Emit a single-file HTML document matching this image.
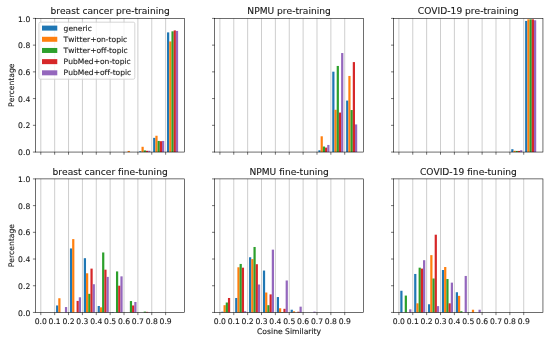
<!DOCTYPE html>
<html lang="en"><head><meta charset="utf-8"><title>Cosine similarity histograms</title>
<style>html,body{margin:0;padding:0;background:#fff}svg{display:block}</style></head>
<body>
<svg width="550" height="340" viewBox="0 0 550 340" font-family="'DejaVu Sans', 'Liberation Sans', sans-serif" fill="#1a1a1a">
<style>text{stroke:#1a1a1a;stroke-width:0.12px;stroke-linejoin:round;font-kerning:none;font-variant-ligatures:none}</style>
<rect width="550" height="340" fill="#fff"/>
<g>
<path d="M40.8 18.4V152.05M54.67 18.4V152.05M68.54 18.4V152.05M82.41 18.4V152.05M96.28 18.4V152.05M110.15 18.4V152.05M124.02 18.4V152.05M137.89 18.4V152.05M151.76 18.4V152.05M165.63 18.4V152.05" stroke="#b0b0b0" stroke-width="0.62" fill="none"/>
<rect x="127.63" y="150.93" width="2.22" height="1.12" fill="#ff7f0e"/>
<rect x="139.28" y="151.2" width="2.22" height="0.85" fill="#1f77b4"/>
<rect x="141.5" y="146.8" width="2.22" height="5.25" fill="#ff7f0e"/>
<rect x="143.72" y="150.4" width="2.22" height="1.65" fill="#2ca02c"/>
<rect x="145.93" y="150.8" width="2.22" height="1.25" fill="#d62728"/>
<rect x="148.15" y="150.8" width="2.22" height="1.25" fill="#9467bd"/>
<rect x="153.15" y="137.88" width="2.22" height="14.17" fill="#1f77b4"/>
<rect x="155.37" y="135.75" width="2.22" height="16.3" fill="#ff7f0e"/>
<rect x="157.59" y="140.94" width="2.22" height="11.11" fill="#2ca02c"/>
<rect x="159.8" y="141.21" width="2.22" height="10.84" fill="#d62728"/>
<rect x="162.02" y="140.94" width="2.22" height="11.11" fill="#9467bd"/>
<rect x="167.02" y="32.39" width="2.22" height="119.66" fill="#1f77b4"/>
<rect x="169.24" y="41.44" width="2.22" height="110.61" fill="#ff7f0e"/>
<rect x="171.46" y="31.32" width="2.22" height="120.73" fill="#2ca02c"/>
<rect x="173.67" y="30.39" width="2.22" height="121.66" fill="#d62728"/>
<rect x="175.89" y="30.92" width="2.22" height="121.13" fill="#9467bd"/>
<path d="M40.8 152.05v2.67M54.67 152.05v2.67M68.54 152.05v2.67M82.41 152.05v2.67M96.28 152.05v2.67M110.15 152.05v2.67M124.02 152.05v2.67M137.89 152.05v2.67M151.76 152.05v2.67M165.63 152.05v2.67M35.6 152.05h-2.67M35.6 125.32h-2.67M35.6 98.59h-2.67M35.6 71.86h-2.67M35.6 45.13h-2.67M35.6 18.4h-2.67" stroke="#000" stroke-width="0.55" fill="none"/>
<rect x="35.6" y="18.4" width="149.05" height="133.65" fill="none" stroke="#000" stroke-width="0.57"/>
<text x="110.12" y="14.2" font-size="9.12" text-anchor="middle">breast cancer pre-training</text>
<text x="30.26" y="155.15" font-size="7.64" text-anchor="end">0.0</text>
<text x="30.26" y="128.42" font-size="7.64" text-anchor="end">0.2</text>
<text x="30.26" y="101.69" font-size="7.64" text-anchor="end">0.4</text>
<text x="30.26" y="74.96" font-size="7.64" text-anchor="end">0.6</text>
<text x="30.26" y="48.23" font-size="7.64" text-anchor="end">0.8</text>
<text x="30.26" y="21.5" font-size="7.64" text-anchor="end">1.0</text>
<text transform="translate(14 85.22) rotate(-90)" font-size="7.64" text-anchor="middle">Percentage</text>
</g>
<g>
<path d="M219.9 18.4V152.05M233.77 18.4V152.05M247.64 18.4V152.05M261.51 18.4V152.05M275.38 18.4V152.05M289.25 18.4V152.05M303.12 18.4V152.05M316.99 18.4V152.05M330.86 18.4V152.05M344.73 18.4V152.05" stroke="#b0b0b0" stroke-width="0.62" fill="none"/>
<rect x="318.38" y="150.27" width="2.22" height="1.78" fill="#1f77b4"/>
<rect x="320.6" y="136.28" width="2.22" height="15.77" fill="#ff7f0e"/>
<rect x="322.82" y="146.54" width="2.22" height="5.51" fill="#2ca02c"/>
<rect x="325.03" y="147.6" width="2.22" height="4.45" fill="#d62728"/>
<rect x="327.25" y="144.94" width="2.22" height="7.11" fill="#9467bd"/>
<rect x="332.25" y="71.68" width="2.22" height="80.37" fill="#1f77b4"/>
<rect x="334.47" y="109.78" width="2.22" height="42.27" fill="#ff7f0e"/>
<rect x="336.69" y="65.95" width="2.22" height="86.1" fill="#2ca02c"/>
<rect x="338.9" y="112.57" width="2.22" height="39.48" fill="#d62728"/>
<rect x="341.12" y="53.03" width="2.22" height="99.02" fill="#9467bd"/>
<rect x="346.12" y="100.58" width="2.22" height="51.47" fill="#1f77b4"/>
<rect x="348.34" y="75.94" width="2.22" height="76.11" fill="#ff7f0e"/>
<rect x="350.56" y="110.04" width="2.22" height="42.01" fill="#2ca02c"/>
<rect x="352.77" y="62.09" width="2.22" height="89.96" fill="#d62728"/>
<rect x="354.99" y="124.43" width="2.22" height="27.62" fill="#9467bd"/>
<path d="M219.9 152.05v2.67M233.77 152.05v2.67M247.64 152.05v2.67M261.51 152.05v2.67M275.38 152.05v2.67M289.25 152.05v2.67M303.12 152.05v2.67M316.99 152.05v2.67M330.86 152.05v2.67M344.73 152.05v2.67M214.7 152.05h-2.67M214.7 125.32h-2.67M214.7 98.59h-2.67M214.7 71.86h-2.67M214.7 45.13h-2.67M214.7 18.4h-2.67" stroke="#000" stroke-width="0.55" fill="none"/>
<rect x="214.7" y="18.4" width="148.8" height="133.65" fill="none" stroke="#000" stroke-width="0.57"/>
<text x="289.1" y="14.2" font-size="9.12" text-anchor="middle">NPMU pre-training</text>
</g>
<g>
<path d="M398.9 18.4V152.05M412.77 18.4V152.05M426.64 18.4V152.05M440.51 18.4V152.05M454.38 18.4V152.05M468.25 18.4V152.05M482.12 18.4V152.05M495.99 18.4V152.05M509.86 18.4V152.05M523.73 18.4V152.05" stroke="#b0b0b0" stroke-width="0.62" fill="none"/>
<rect x="511.25" y="149.2" width="2.22" height="2.85" fill="#1f77b4"/>
<rect x="513.47" y="150.8" width="2.22" height="1.25" fill="#ff7f0e"/>
<rect x="515.69" y="150.93" width="2.22" height="1.12" fill="#2ca02c"/>
<rect x="517.9" y="150.93" width="2.22" height="1.12" fill="#d62728"/>
<rect x="520.12" y="150.27" width="2.22" height="1.78" fill="#9467bd"/>
<rect x="525.12" y="20.93" width="2.22" height="131.12" fill="#1f77b4"/>
<rect x="527.34" y="19.33" width="2.22" height="132.72" fill="#ff7f0e"/>
<rect x="529.56" y="19.33" width="2.22" height="132.72" fill="#2ca02c"/>
<rect x="531.77" y="19.33" width="2.22" height="132.72" fill="#d62728"/>
<rect x="533.99" y="20.26" width="2.22" height="131.79" fill="#9467bd"/>
<path d="M398.9 152.05v2.67M412.77 152.05v2.67M426.64 152.05v2.67M440.51 152.05v2.67M454.38 152.05v2.67M468.25 152.05v2.67M482.12 152.05v2.67M495.99 152.05v2.67M509.86 152.05v2.67M523.73 152.05v2.67M393.7 152.05h-2.67M393.7 125.32h-2.67M393.7 98.59h-2.67M393.7 71.86h-2.67M393.7 45.13h-2.67M393.7 18.4h-2.67" stroke="#000" stroke-width="0.55" fill="none"/>
<rect x="393.7" y="18.4" width="149.25" height="133.65" fill="none" stroke="#000" stroke-width="0.57"/>
<text x="468.33" y="14.2" font-size="9.12" text-anchor="middle">COVID-19 pre-training</text>
</g>
<g>
<path d="M40.8 178.9V312.45M54.67 178.9V312.45M68.54 178.9V312.45M82.41 178.9V312.45M96.28 178.9V312.45M110.15 178.9V312.45M124.02 178.9V312.45M137.89 178.9V312.45M151.76 178.9V312.45M165.63 178.9V312.45" stroke="#b0b0b0" stroke-width="0.62" fill="none"/>
<rect x="56.06" y="305.46" width="2.22" height="6.99" fill="#1f77b4"/>
<rect x="58.28" y="298.25" width="2.22" height="14.2" fill="#ff7f0e"/>
<rect x="64.93" y="307.06" width="2.22" height="5.39" fill="#9467bd"/>
<rect x="69.93" y="248.45" width="2.22" height="64" fill="#1f77b4"/>
<rect x="72.15" y="239.11" width="2.22" height="73.34" fill="#ff7f0e"/>
<rect x="76.58" y="300.92" width="2.22" height="11.53" fill="#d62728"/>
<rect x="78.8" y="297.31" width="2.22" height="15.14" fill="#9467bd"/>
<rect x="83.8" y="258.2" width="2.22" height="54.25" fill="#1f77b4"/>
<rect x="86.02" y="273.28" width="2.22" height="39.17" fill="#ff7f0e"/>
<rect x="88.24" y="293.84" width="2.22" height="18.61" fill="#2ca02c"/>
<rect x="90.45" y="268.61" width="2.22" height="43.84" fill="#d62728"/>
<rect x="92.67" y="284.23" width="2.22" height="28.22" fill="#9467bd"/>
<rect x="97.67" y="305.99" width="2.22" height="6.46" fill="#1f77b4"/>
<rect x="99.89" y="307.33" width="2.22" height="5.12" fill="#ff7f0e"/>
<rect x="102.11" y="252.46" width="2.22" height="59.99" fill="#2ca02c"/>
<rect x="104.32" y="269.68" width="2.22" height="42.77" fill="#d62728"/>
<rect x="106.54" y="276.89" width="2.22" height="35.56" fill="#9467bd"/>
<rect x="111.54" y="312" width="2.22" height="0.45" fill="#1f77b4"/>
<rect x="115.98" y="271.42" width="2.22" height="41.03" fill="#2ca02c"/>
<rect x="118.19" y="285.7" width="2.22" height="26.75" fill="#d62728"/>
<rect x="120.41" y="276.35" width="2.22" height="36.1" fill="#9467bd"/>
<rect x="129.85" y="301.05" width="2.22" height="11.4" fill="#2ca02c"/>
<rect x="132.06" y="305.46" width="2.22" height="6.99" fill="#d62728"/>
<rect x="134.28" y="301.99" width="2.22" height="10.46" fill="#9467bd"/>
<rect x="143.72" y="311.6" width="2.22" height="0.85" fill="#2ca02c"/>
<rect x="145.93" y="311.87" width="2.22" height="0.58" fill="#d62728"/>
<rect x="148.15" y="312.13" width="2.22" height="0.32" fill="#9467bd"/>
<path d="M40.8 312.45v2.67M54.67 312.45v2.67M68.54 312.45v2.67M82.41 312.45v2.67M96.28 312.45v2.67M110.15 312.45v2.67M124.02 312.45v2.67M137.89 312.45v2.67M151.76 312.45v2.67M165.63 312.45v2.67M35.6 312.45h-2.67M35.6 285.74h-2.67M35.6 259.03h-2.67M35.6 232.32h-2.67M35.6 205.61h-2.67M35.6 178.9h-2.67" stroke="#000" stroke-width="0.55" fill="none"/>
<rect x="35.6" y="178.9" width="149.05" height="133.55" fill="none" stroke="#000" stroke-width="0.57"/>
<text x="110.12" y="174.7" font-size="9.12" text-anchor="middle">breast cancer fine-tuning</text>
<text x="30.26" y="315.55" font-size="7.64" text-anchor="end">0.0</text>
<text x="30.26" y="288.84" font-size="7.64" text-anchor="end">0.2</text>
<text x="30.26" y="262.13" font-size="7.64" text-anchor="end">0.4</text>
<text x="30.26" y="235.42" font-size="7.64" text-anchor="end">0.6</text>
<text x="30.26" y="208.71" font-size="7.64" text-anchor="end">0.8</text>
<text x="30.26" y="182" font-size="7.64" text-anchor="end">1.0</text>
<text transform="translate(14 245.68) rotate(-90)" font-size="7.64" text-anchor="middle">Percentage</text>
<text x="40.8" y="323.75" font-size="7.64" text-anchor="middle">0.0</text>
<text x="54.67" y="323.75" font-size="7.64" text-anchor="middle">0.1</text>
<text x="68.54" y="323.75" font-size="7.64" text-anchor="middle">0.2</text>
<text x="82.41" y="323.75" font-size="7.64" text-anchor="middle">0.3</text>
<text x="96.28" y="323.75" font-size="7.64" text-anchor="middle">0.4</text>
<text x="110.15" y="323.75" font-size="7.64" text-anchor="middle">0.5</text>
<text x="124.02" y="323.75" font-size="7.64" text-anchor="middle">0.6</text>
<text x="137.89" y="323.75" font-size="7.64" text-anchor="middle">0.7</text>
<text x="151.76" y="323.75" font-size="7.64" text-anchor="middle">0.8</text>
<text x="165.63" y="323.75" font-size="7.64" text-anchor="middle">0.9</text>
</g>
<g>
<path d="M219.9 178.9V312.45M233.77 178.9V312.45M247.64 178.9V312.45M261.51 178.9V312.45M275.38 178.9V312.45M289.25 178.9V312.45M303.12 178.9V312.45M316.99 178.9V312.45M330.86 178.9V312.45M344.73 178.9V312.45" stroke="#b0b0b0" stroke-width="0.62" fill="none"/>
<rect x="221.29" y="311.73" width="2.22" height="0.72" fill="#1f77b4"/>
<rect x="223.51" y="305.19" width="2.22" height="7.26" fill="#ff7f0e"/>
<rect x="225.73" y="302.52" width="2.22" height="9.93" fill="#2ca02c"/>
<rect x="227.94" y="297.98" width="2.22" height="14.47" fill="#d62728"/>
<rect x="235.16" y="297.98" width="2.22" height="14.47" fill="#1f77b4"/>
<rect x="237.38" y="267.28" width="2.22" height="45.17" fill="#ff7f0e"/>
<rect x="239.6" y="263.94" width="2.22" height="48.51" fill="#2ca02c"/>
<rect x="241.81" y="267.68" width="2.22" height="44.77" fill="#d62728"/>
<rect x="244.03" y="311.2" width="2.22" height="1.25" fill="#9467bd"/>
<rect x="249.03" y="257.26" width="2.22" height="55.19" fill="#1f77b4"/>
<rect x="251.25" y="259.13" width="2.22" height="53.32" fill="#ff7f0e"/>
<rect x="253.47" y="246.98" width="2.22" height="65.47" fill="#2ca02c"/>
<rect x="255.68" y="264.21" width="2.22" height="48.24" fill="#d62728"/>
<rect x="257.9" y="284.5" width="2.22" height="27.95" fill="#9467bd"/>
<rect x="262.9" y="270.55" width="2.22" height="41.9" fill="#1f77b4"/>
<rect x="265.12" y="292.51" width="2.22" height="19.94" fill="#ff7f0e"/>
<rect x="267.34" y="305.19" width="2.22" height="7.26" fill="#2ca02c"/>
<rect x="269.55" y="294.38" width="2.22" height="18.07" fill="#d62728"/>
<rect x="271.77" y="249.65" width="2.22" height="62.8" fill="#9467bd"/>
<rect x="276.77" y="297.05" width="2.22" height="15.4" fill="#1f77b4"/>
<rect x="278.99" y="308.26" width="2.22" height="4.19" fill="#ff7f0e"/>
<rect x="281.21" y="312" width="2.22" height="0.45" fill="#2ca02c"/>
<rect x="283.42" y="308.8" width="2.22" height="3.65" fill="#d62728"/>
<rect x="285.64" y="280.49" width="2.22" height="31.96" fill="#9467bd"/>
<rect x="290.64" y="309.73" width="2.22" height="2.72" fill="#1f77b4"/>
<rect x="292.86" y="311.33" width="2.22" height="1.12" fill="#ff7f0e"/>
<rect x="297.29" y="311.73" width="2.22" height="0.72" fill="#d62728"/>
<rect x="299.51" y="306.66" width="2.22" height="5.79" fill="#9467bd"/>
<rect x="313.38" y="311.6" width="2.22" height="0.85" fill="#9467bd"/>
<path d="M219.9 312.45v2.67M233.77 312.45v2.67M247.64 312.45v2.67M261.51 312.45v2.67M275.38 312.45v2.67M289.25 312.45v2.67M303.12 312.45v2.67M316.99 312.45v2.67M330.86 312.45v2.67M344.73 312.45v2.67M214.7 312.45h-2.67M214.7 285.74h-2.67M214.7 259.03h-2.67M214.7 232.32h-2.67M214.7 205.61h-2.67M214.7 178.9h-2.67" stroke="#000" stroke-width="0.55" fill="none"/>
<rect x="214.7" y="178.9" width="148.8" height="133.55" fill="none" stroke="#000" stroke-width="0.57"/>
<text x="289.1" y="174.7" font-size="9.12" text-anchor="middle">NPMU fine-tuning</text>
<text x="219.9" y="323.75" font-size="7.64" text-anchor="middle">0.0</text>
<text x="233.77" y="323.75" font-size="7.64" text-anchor="middle">0.1</text>
<text x="247.64" y="323.75" font-size="7.64" text-anchor="middle">0.2</text>
<text x="261.51" y="323.75" font-size="7.64" text-anchor="middle">0.3</text>
<text x="275.38" y="323.75" font-size="7.64" text-anchor="middle">0.4</text>
<text x="289.25" y="323.75" font-size="7.64" text-anchor="middle">0.5</text>
<text x="303.12" y="323.75" font-size="7.64" text-anchor="middle">0.6</text>
<text x="316.99" y="323.75" font-size="7.64" text-anchor="middle">0.7</text>
<text x="330.86" y="323.75" font-size="7.64" text-anchor="middle">0.8</text>
<text x="344.73" y="323.75" font-size="7.64" text-anchor="middle">0.9</text>
<text x="289.1" y="333.75" font-size="7.64" text-anchor="middle">Cosine Similarity</text>
</g>
<g>
<path d="M398.9 178.9V312.45M412.77 178.9V312.45M426.64 178.9V312.45M440.51 178.9V312.45M454.38 178.9V312.45M468.25 178.9V312.45M482.12 178.9V312.45M495.99 178.9V312.45M509.86 178.9V312.45M523.73 178.9V312.45" stroke="#b0b0b0" stroke-width="0.62" fill="none"/>
<rect x="400.29" y="290.77" width="2.22" height="21.68" fill="#1f77b4"/>
<rect x="404.73" y="295.58" width="2.22" height="16.87" fill="#2ca02c"/>
<rect x="409.16" y="309.33" width="2.22" height="3.12" fill="#9467bd"/>
<rect x="414.16" y="273.95" width="2.22" height="38.5" fill="#1f77b4"/>
<rect x="416.38" y="303.32" width="2.22" height="9.13" fill="#ff7f0e"/>
<rect x="418.6" y="267.68" width="2.22" height="44.77" fill="#2ca02c"/>
<rect x="420.81" y="268.61" width="2.22" height="43.84" fill="#d62728"/>
<rect x="423.03" y="260.2" width="2.22" height="52.25" fill="#9467bd"/>
<rect x="428.03" y="304.26" width="2.22" height="8.19" fill="#1f77b4"/>
<rect x="430.25" y="255.13" width="2.22" height="57.32" fill="#ff7f0e"/>
<rect x="432.47" y="278.49" width="2.22" height="33.96" fill="#2ca02c"/>
<rect x="434.68" y="234.7" width="2.22" height="77.75" fill="#d62728"/>
<rect x="436.9" y="306.13" width="2.22" height="6.32" fill="#9467bd"/>
<rect x="441.9" y="270.01" width="2.22" height="42.44" fill="#1f77b4"/>
<rect x="444.12" y="267.01" width="2.22" height="45.44" fill="#ff7f0e"/>
<rect x="446.34" y="279.02" width="2.22" height="33.43" fill="#2ca02c"/>
<rect x="448.55" y="303.32" width="2.22" height="9.13" fill="#d62728"/>
<rect x="450.77" y="282.63" width="2.22" height="29.82" fill="#9467bd"/>
<rect x="455.77" y="292.24" width="2.22" height="20.21" fill="#1f77b4"/>
<rect x="457.99" y="295.85" width="2.22" height="16.6" fill="#ff7f0e"/>
<rect x="460.21" y="311.2" width="2.22" height="1.25" fill="#2ca02c"/>
<rect x="464.64" y="275.95" width="2.22" height="36.5" fill="#9467bd"/>
<rect x="471.86" y="309.73" width="2.22" height="2.72" fill="#ff7f0e"/>
<rect x="478.51" y="309.73" width="2.22" height="2.72" fill="#9467bd"/>
<path d="M398.9 312.45v2.67M412.77 312.45v2.67M426.64 312.45v2.67M440.51 312.45v2.67M454.38 312.45v2.67M468.25 312.45v2.67M482.12 312.45v2.67M495.99 312.45v2.67M509.86 312.45v2.67M523.73 312.45v2.67M393.7 312.45h-2.67M393.7 285.74h-2.67M393.7 259.03h-2.67M393.7 232.32h-2.67M393.7 205.61h-2.67M393.7 178.9h-2.67" stroke="#000" stroke-width="0.55" fill="none"/>
<rect x="393.7" y="178.9" width="149.25" height="133.55" fill="none" stroke="#000" stroke-width="0.57"/>
<text x="468.33" y="174.7" font-size="9.12" text-anchor="middle">COVID-19 fine-tuning</text>
<text x="398.9" y="323.75" font-size="7.64" text-anchor="middle">0.0</text>
<text x="412.77" y="323.75" font-size="7.64" text-anchor="middle">0.1</text>
<text x="426.64" y="323.75" font-size="7.64" text-anchor="middle">0.2</text>
<text x="440.51" y="323.75" font-size="7.64" text-anchor="middle">0.3</text>
<text x="454.38" y="323.75" font-size="7.64" text-anchor="middle">0.4</text>
<text x="468.25" y="323.75" font-size="7.64" text-anchor="middle">0.5</text>
<text x="482.12" y="323.75" font-size="7.64" text-anchor="middle">0.6</text>
<text x="495.99" y="323.75" font-size="7.64" text-anchor="middle">0.7</text>
<text x="509.86" y="323.75" font-size="7.64" text-anchor="middle">0.8</text>
<text x="523.73" y="323.75" font-size="7.64" text-anchor="middle">0.9</text>
</g>
<g>
<rect x="38.9" y="22.2" width="95.9" height="57" rx="1.5" ry="1.5" fill="#fff" fill-opacity="0.8" stroke="#ccc" stroke-width="0.8"/>
<rect x="42" y="25.6" width="15.28" height="5" fill="#1f77b4"/>
<text x="63.6" y="30.6" font-size="7.55">generic</text>
<rect x="42" y="36.78" width="15.28" height="5" fill="#ff7f0e"/>
<text x="63.6" y="41.78" font-size="7.55">Twitter+on-topic</text>
<rect x="42" y="47.96" width="15.28" height="5" fill="#2ca02c"/>
<text x="63.6" y="52.96" font-size="7.55">Twitter+off-topic</text>
<rect x="42" y="59.14" width="15.28" height="5" fill="#d62728"/>
<text x="63.6" y="64.14" font-size="7.55">PubMed+on-topic</text>
<rect x="42" y="70.32" width="15.28" height="5" fill="#9467bd"/>
<text x="63.6" y="75.32" font-size="7.55">PubMed+off-topic</text>
</g>
</svg>
</body></html>
